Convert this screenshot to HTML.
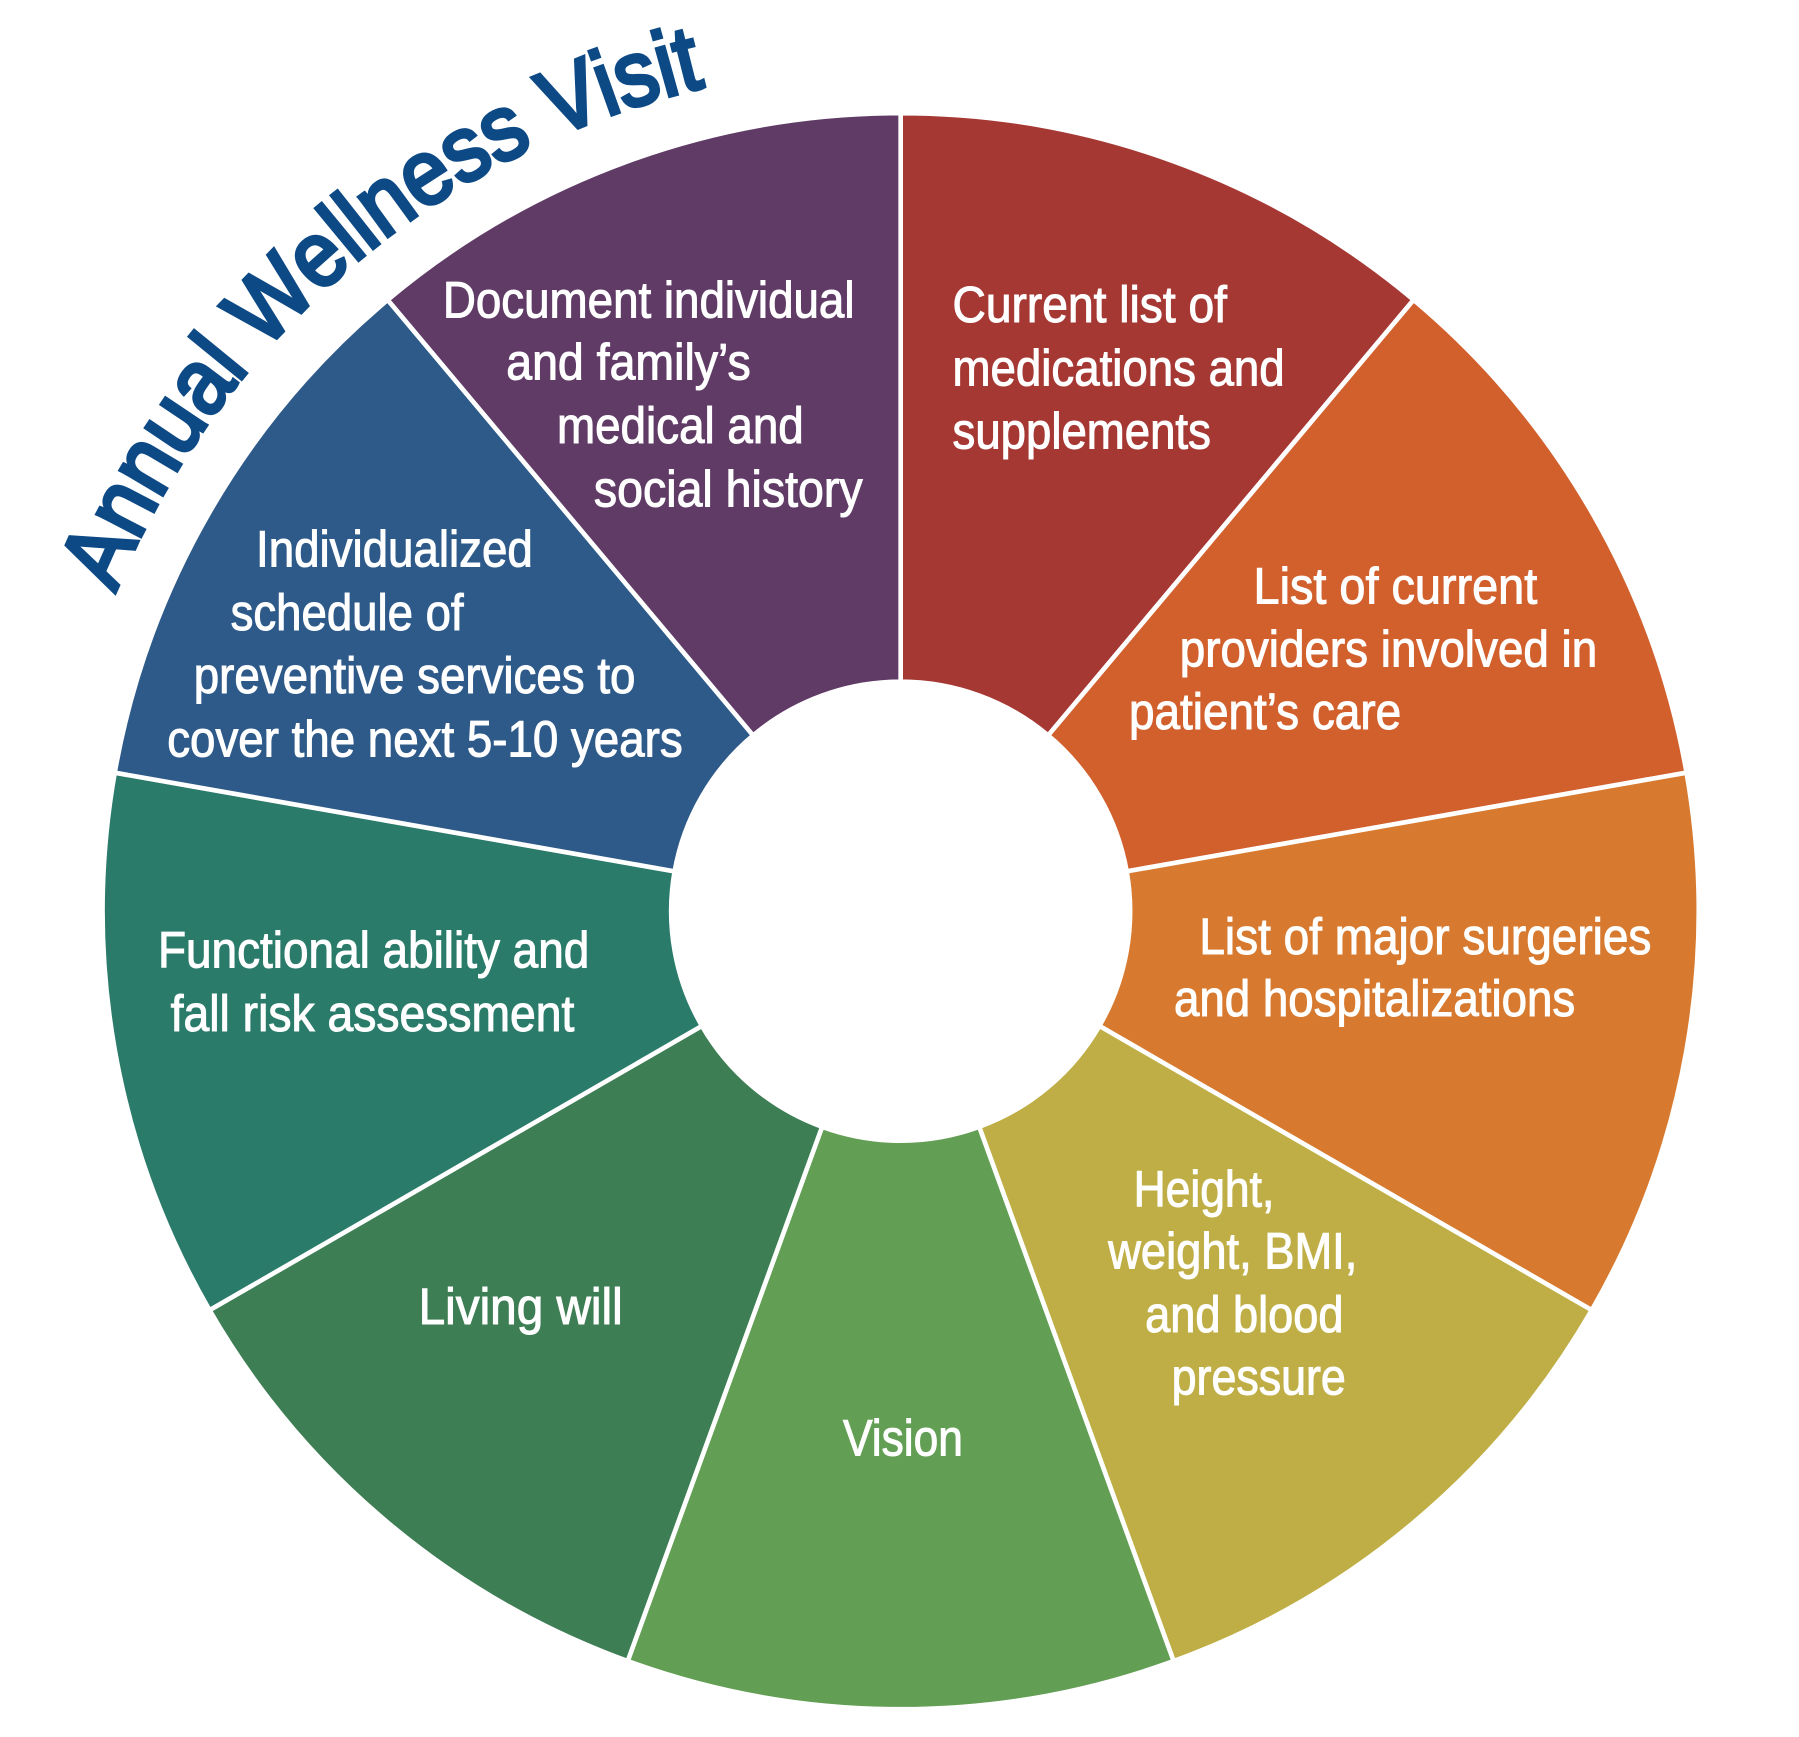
<!DOCTYPE html>
<html><head><meta charset="utf-8"><style>html,body{margin:0;padding:0;background:#fff}svg{display:block}</style></head>
<body>
<svg width="1799" height="1737" viewBox="0 0 1560 1506" xmlns="http://www.w3.org/2000/svg">
<g stroke="#fff" stroke-width="4">
<path fill="#A63834" d="M781,98 A692,692 0 0 1 1225.8,259.9 L908.9,637.6 A199,199 0 0 0 781,591 Z"/>
<path fill="#D2602D" d="M1225.8,259.9 A692,692 0 0 1 1462.5,669.9 L977,755.5 A199,199 0 0 0 908.9,637.6 Z"/>
<path fill="#D77A2F" d="M1462.5,669.9 A692,692 0 0 1 1380.3,1136 L953.3,889.5 A199,199 0 0 0 977,755.5 Z"/>
<path fill="#BFAE45" d="M1380.3,1136 A692,692 0 0 1 1017.7,1440.3 L849.1,977 A199,199 0 0 0 953.3,889.5 Z"/>
<path fill="#639E55" d="M1017.7,1440.3 A692,692 0 0 1 544.3,1440.3 L712.9,977 A199,199 0 0 0 849.1,977 Z"/>
<path fill="#3E7E55" d="M544.3,1440.3 A692,692 0 0 1 181.7,1136 L608.7,889.5 A199,199 0 0 0 712.9,977 Z"/>
<path fill="#2A7B6A" d="M181.7,1136 A692,692 0 0 1 99.5,669.9 L585,755.5 A199,199 0 0 0 608.7,889.5 Z"/>
<path fill="#2E5A8A" d="M99.5,669.9 A692,692 0 0 1 336.2,259.9 L653.1,637.6 A199,199 0 0 0 585,755.5 Z"/>
<path fill="#5F3B66" d="M336.2,259.9 A692,692 0 0 1 781,98 L781,591 A199,199 0 0 0 653.1,637.6 Z"/>
</g>
<path id="arc" d="M 100 514 A 735 735 0 0 1 630 71" fill="none"/>
<text font-family="Liberation Sans Narrow, Liberation Sans, sans-serif" font-size="80" fill="#0D4A85" stroke="#0D4A85" stroke-width="3.5"><textPath href="#arc" textLength="700" lengthAdjust="spacingAndGlyphs">Annual Wellness Visit</textPath></text>
<g font-family="Liberation Sans Narrow, Liberation Sans, sans-serif" font-size="44" fill="#fff" stroke="#fff" stroke-width="0.9">
<text x="384" y="275" textLength="357" lengthAdjust="spacingAndGlyphs">Document individual</text>
<text x="439" y="329" textLength="212" lengthAdjust="spacingAndGlyphs">and family’s</text>
<text x="483" y="384" textLength="214" lengthAdjust="spacingAndGlyphs">medical and</text>
<text x="515" y="439" textLength="233" lengthAdjust="spacingAndGlyphs">social history</text>
<text x="826" y="279" textLength="238" lengthAdjust="spacingAndGlyphs">Current list of</text>
<text x="826" y="334" textLength="288" lengthAdjust="spacingAndGlyphs">medications and</text>
<text x="826" y="389" textLength="224" lengthAdjust="spacingAndGlyphs">supplements</text>
<text x="1087" y="523" textLength="246" lengthAdjust="spacingAndGlyphs">List of current</text>
<text x="1023" y="578" textLength="362" lengthAdjust="spacingAndGlyphs">providers involved in</text>
<text x="979" y="632" textLength="236" lengthAdjust="spacingAndGlyphs">patient’s care</text>
<text x="1040" y="827" textLength="392" lengthAdjust="spacingAndGlyphs">List of major surgeries</text>
<text x="1018" y="881" textLength="348" lengthAdjust="spacingAndGlyphs">and hospitalizations</text>
<text x="983" y="1046" textLength="122" lengthAdjust="spacingAndGlyphs">Height,</text>
<text x="961" y="1100" textLength="216" lengthAdjust="spacingAndGlyphs">weight, BMI,</text>
<text x="993" y="1155" textLength="172" lengthAdjust="spacingAndGlyphs">and blood</text>
<text x="1016" y="1209" textLength="151" lengthAdjust="spacingAndGlyphs">pressure</text>
<text x="731" y="1262" textLength="104" lengthAdjust="spacingAndGlyphs">Vision</text>
<text x="363" y="1148" textLength="177" lengthAdjust="spacingAndGlyphs">Living will</text>
<text x="137" y="839" textLength="374" lengthAdjust="spacingAndGlyphs">Functional ability and</text>
<text x="148" y="894" textLength="350" lengthAdjust="spacingAndGlyphs">fall risk assessment</text>
<text x="222" y="491" textLength="240" lengthAdjust="spacingAndGlyphs">Individualized</text>
<text x="200" y="546" textLength="202" lengthAdjust="spacingAndGlyphs">schedule of</text>
<text x="168" y="601" textLength="383" lengthAdjust="spacingAndGlyphs">preventive services to</text>
<text x="145" y="656" textLength="447" lengthAdjust="spacingAndGlyphs">cover the next 5-10 years</text>
</g>
</svg>
</body></html>
